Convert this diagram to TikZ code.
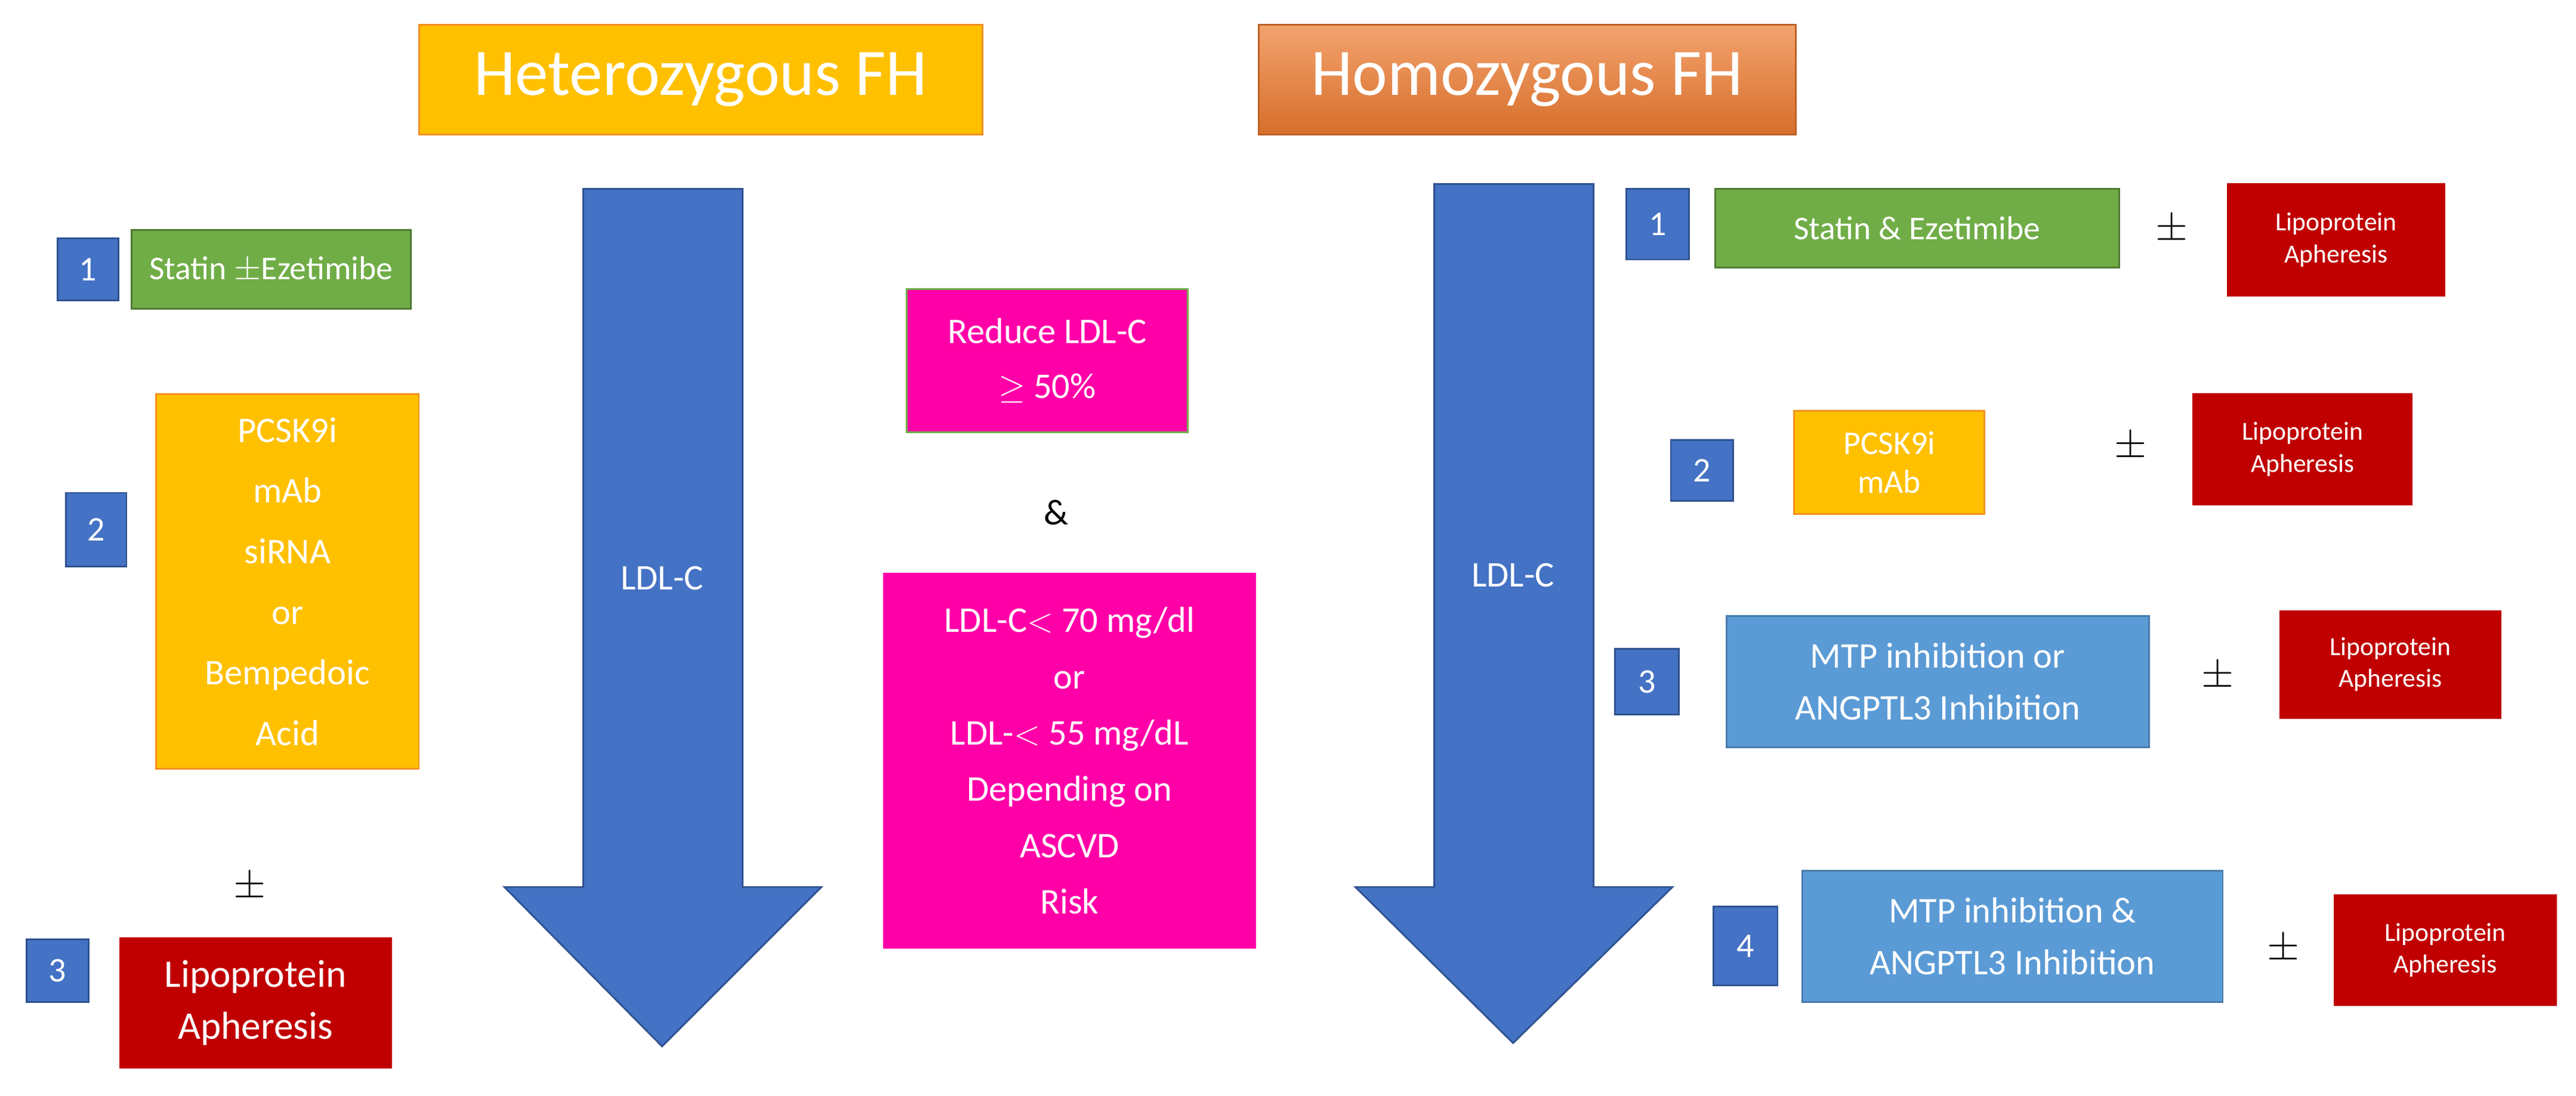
\documentclass[tikz,border=0pt]{standalone}
\usepackage{fontspec}
\setmainfont{Carlito}
\definecolor{hyel}{HTML}{FFC000}
\definecolor{horange}{HTML}{EE7B30}
\definecolor{bblue}{HTML}{4472C4}
\definecolor{bbord}{HTML}{2F528F}
\definecolor{ggreen}{HTML}{70AD47}
\definecolor{rred}{HTML}{C00000}
\definecolor{mmag}{HTML}{FF00A8}
\definecolor{lblue}{HTML}{5B9BD5}
\tikzset{
 box/.style={draw, line width=0.6pt, inner sep=1pt, align=center, text=white},
 num/.style={box, fill=bblue, draw=bbord, font=\fontsize{12}{14}\selectfont},
 head/.style={box, font=\fontsize{23}{27}\selectfont},
 txt/.style={font=\fontsize{11.5}{13.5}\selectfont},
 sml/.style={font=\fontsize{9}{11}\selectfont},
 pm/.style={font=\fontsize{14}{16}\selectfont, text=black},
 bigarrow/.style={fill=bblue, draw=bbord, line width=0.6pt}
}
\begin{document}
\begin{tikzpicture}[x=0.02cm,y=-0.02cm]
\useasboundingbox (0,0) rectangle (1568,667);
\node[head, fill=hyel, draw=horange!70!hyel, minimum width=6.86cm, minimum height=1.34cm] (het) at (426.5,48.5) {Heterozygous FH};
\node[head, top color=horange!70!white, bottom color=horange!90!black, draw=horange!80!black, minimum width=6.54cm, minimum height=1.34cm] (hom) at (929.5,48.5) {Homozygous FH};
% arrows
\draw[bigarrow] (355,115) -- (452,115) -- (452,540) -- (500,540) -- (403,637) -- (307,540) -- (355,540) -- cycle;
\draw[bigarrow] (873,112) -- (970,112) -- (970,540) -- (1018,540) -- (921,635) -- (825,540) -- (873,540) -- cycle;
\node[text=white, font=\fontsize{12.5}{15}\selectfont] (l1) at (403,352) {LDL-C};
\node[text=white, font=\fontsize{12.5}{15}\selectfont] (l2) at (921,350) {LDL-C};
% left
\node[num, minimum width=.74cm, minimum height=.76cm] (n1) at (53.5,164) {1};
\node[num, minimum width=.74cm, minimum height=.9cm] (n2) at (58.5,322.5) {2};
\node[num, minimum width=.76cm, minimum height=.76cm] (n3) at (35,591) {3};
\node[box, txt, fill=ggreen, draw=ggreen!70!black, minimum width=3.4cm, minimum height=.96cm] (g1) at (165,164) {Statin $\pm$Ezetimibe};
\node[box, fill=hyel, draw=horange!70!hyel, minimum width=3.2cm, minimum height=4.56cm, font=\fontsize{12.5}{21}\selectfont] (y1) at (175,354) {PCSK9i\\mAb\\siRNA\\or\\Bempedoic\\Acid};
\node[pm] (pmL) at (152,540) {$\pm$};
\node[box, fill=rred, draw=rred, minimum width=3.3cm, minimum height=1.58cm, font=\fontsize{13.5}{18}\selectfont] (r0) at (155.5,610.5) {Lipoprotein\\Apheresis};
\node[box, fill=mmag, draw=ggreen, minimum width=3.42cm, minimum height=1.74cm, font=\fontsize{12.5}{19}\selectfont] (m1) at (637.5,219.5) {Reduce LDL-C\\$\geq$ 50\%};
\node[pm, font=\fontsize{12.5}{15}\selectfont] (amp) at (643,312) {\&};
\node[box, fill=mmag, draw=mmag, minimum width=4.52cm, minimum height=4.56cm, font=\fontsize{12.5}{19.5}\selectfont] (m2) at (651,463) {LDL-C$<$ 70 mg/dl\\or\\LDL-$<$ 55 mg/dL\\Depending on\\ASCVD\\Risk};
% right
\node[num, minimum width=.76cm, minimum height=.86cm] (rn1) at (1009,136.5) {1};
\node[box, txt, fill=ggreen, draw=ggreen!70!black, minimum width=4.92cm, minimum height=.96cm] (rg) at (1167,139) {Statin \& Ezetimibe};
\node[pm] (pm1) at (1322,140) {$\pm$};
\node[box, sml, fill=rred, draw=rred, minimum width=2.64cm, minimum height=1.36cm] (rr1) at (1422,146) {Lipoprotein\\Apheresis};
\node[num, minimum width=.76cm, minimum height=.74cm] (rn2) at (1036,286.5) {2};
\node[box, txt, fill=hyel, draw=horange!70!hyel, minimum width=2.32cm, minimum height=1.26cm] (ry) at (1150,281.5) {PCSK9i\\mAb};
\node[pm] (pm2) at (1297,272) {$\pm$};
\node[box, sml, fill=rred, draw=rred, minimum width=2.66cm, minimum height=1.34cm] (rr2) at (1401.5,273.5) {Lipoprotein\\Apheresis};
\node[num, minimum width=.78cm, minimum height=.8cm] (rn3) at (1002.5,415) {3};
\node[box, txt, fill=lblue, draw=lblue!80!black, minimum width=5.14cm, minimum height=1.6cm, font=\fontsize{12.5}{18}\selectfont] (rb3) at (1179.5,415) {MTP inhibition or\\ANGPTL3 Inhibition};
\node[pm] (pm3) at (1350,412) {$\pm$};
\node[box, sml, fill=rred, draw=rred, minimum width=2.68cm, minimum height=1.3cm] (rr3) at (1455,404.5) {Lipoprotein\\Apheresis};
\node[num, minimum width=.78cm, minimum height=.96cm] (rn4) at (1062.5,576) {4};
\node[box, txt, fill=lblue, draw=lblue!80!black, minimum width=5.12cm, minimum height=1.6cm, font=\fontsize{12.5}{18}\selectfont] (rb4) at (1225,570) {MTP inhibition \&\\ANGPTL3 Inhibition};
\node[pm] (pm4) at (1390,578) {$\pm$};
\node[box, sml, fill=rred, draw=rred, minimum width=2.7cm, minimum height=1.34cm] (rr4) at (1488.5,578.5) {Lipoprotein\\Apheresis};
\end{tikzpicture}
\end{document}
